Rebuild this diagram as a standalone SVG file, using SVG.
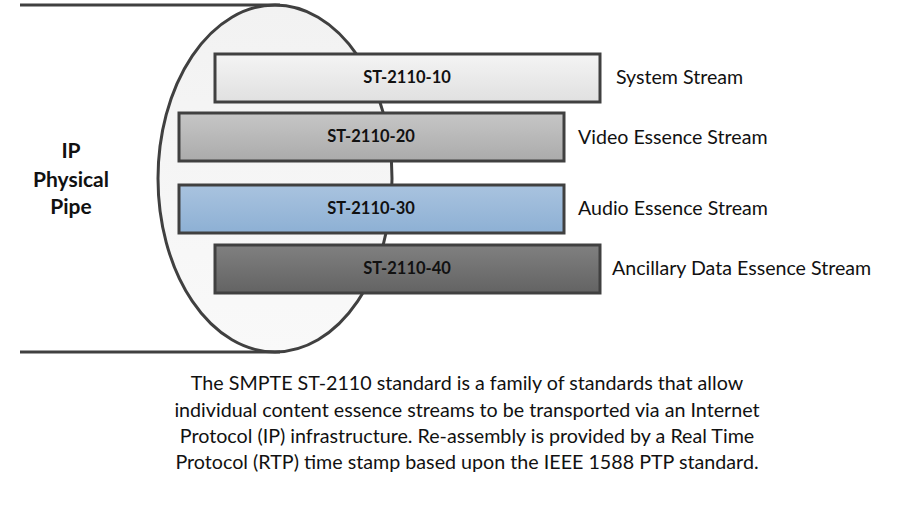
<svg xmlns="http://www.w3.org/2000/svg" width="912" height="508" viewBox="0 0 912 508">
<defs>
<linearGradient id="gEll" x1="0" y1="0" x2="0" y2="1"><stop offset="0" stop-color="#f2f2f2"/><stop offset="1" stop-color="#f9f9f9"/></linearGradient>
<linearGradient id="g1" x1="0" y1="0" x2="0" y2="1"><stop offset="0" stop-color="#f4f4f4"/><stop offset="1" stop-color="#e0e0e0"/></linearGradient>
<linearGradient id="g2" x1="0" y1="0" x2="0" y2="1"><stop offset="0" stop-color="#c6c6c6"/><stop offset="1" stop-color="#ababab"/></linearGradient>
<linearGradient id="g3" x1="0" y1="0" x2="0" y2="1"><stop offset="0" stop-color="#a9c3df"/><stop offset="1" stop-color="#8db0d4"/></linearGradient>
<linearGradient id="g4" x1="0" y1="0" x2="0" y2="1"><stop offset="0" stop-color="#808080"/><stop offset="1" stop-color="#636363"/></linearGradient>
</defs>
<style>
.edge{fill:none;stroke:#404040;stroke-width:3}
.box{stroke:#404040;stroke-width:3}
.bt{font-family:Lato,"Liberation Sans",sans-serif;font-weight:bold;font-size:16.5px;fill:#111;text-anchor:middle}
.lb{font-family:Lato,"Liberation Sans",sans-serif;font-size:19.6px;fill:#111}
.ip{font-family:Lato,"Liberation Sans",sans-serif;font-weight:bold;font-size:21px;fill:#111;text-anchor:middle}
.cap{font-family:Lato,"Liberation Sans",sans-serif;font-size:19.7px;fill:#111;text-anchor:middle}
</style>
<rect width="912" height="508" fill="#fff"/>
<g id="pipe">
<ellipse cx="275" cy="178.5" rx="117" ry="173.5" fill="url(#gEll)" stroke="#404040" stroke-width="3"/>
<line class="edge" x1="20" y1="5" x2="280" y2="5"/>
<line class="edge" x1="20" y1="352" x2="280" y2="352"/>
<text class="ip" x="71" y="158">IP</text>
<text class="ip" x="71" y="187">Physical</text>
<text class="ip" x="71" y="214">Pipe</text>
</g>
<g id="connectors"></g>
<g id="st10">
<rect class="box" x="215" y="54" width="385" height="48" fill="url(#g1)"/>
<text class="bt" x="407" y="83">ST-2110-10</text>
<text class="lb" x="616" y="84">System Stream</text>
</g>
<g id="st20">
<rect class="box" x="179" y="113" width="385" height="48" fill="url(#g2)"/>
<text class="bt" x="371" y="142">ST-2110-20</text>
<text class="lb" x="578" y="144">Video Essence Stream</text>
</g>
<g id="st30">
<rect class="box" x="179" y="185" width="385" height="48" fill="url(#g3)"/>
<text class="bt" x="371" y="214">ST-2110-30</text>
<text class="lb" x="578" y="215">Audio Essence Stream</text>
</g>
<g id="st40">
<rect class="box" x="215" y="245" width="385" height="48" fill="url(#g4)"/>
<text class="bt" x="407" y="274">ST-2110-40</text>
<text class="lb" x="612" y="275">Ancillary Data Essence Stream</text>
</g>
<g id="caption">
<text class="cap" x="467" y="390">The SMPTE ST-2110 standard is a family of standards that allow</text>
<text class="cap" x="467" y="417">individual content essence streams to be transported via an Internet</text>
<text class="cap" x="467" y="443">Protocol (IP) infrastructure. Re-assembly is provided by a Real Time</text>
<text class="cap" x="467" y="469">Protocol (RTP) time stamp based upon the IEEE 1588 PTP standard.</text>
</g>
</svg>
